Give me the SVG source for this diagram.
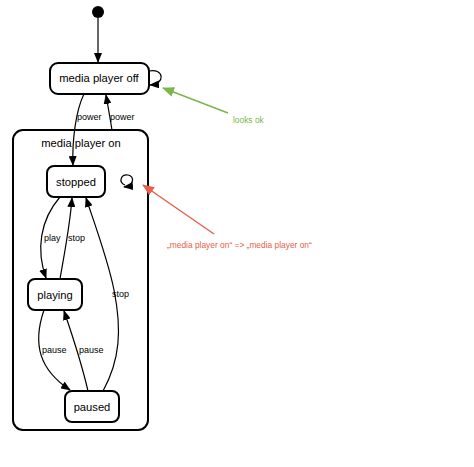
<svg xmlns="http://www.w3.org/2000/svg" width="474" height="467" viewBox="0 0 474 467">
<style>
.node{fill:#fff;stroke:#000;stroke-width:2}
.lbl{font-family:"Liberation Sans",Arial,sans-serif;font-size:11.2px;fill:#000;text-anchor:middle}
.el{font-family:"Liberation Sans",Arial,sans-serif;font-size:9px;fill:#000}
.e{fill:none;stroke:#000;stroke-width:1.2}
.ann{font-family:"Liberation Sans",Arial,sans-serif;font-size:8.4px}
</style>
<defs>
<marker id="ah" markerWidth="10" markerHeight="8" refX="9" refY="4" orient="auto" markerUnits="userSpaceOnUse">
<path d="M0,0 L10,4 L0,8 z" fill="#000"/>
</marker>
<marker id="ag" markerWidth="12" markerHeight="10" refX="11" refY="5" orient="auto" markerUnits="userSpaceOnUse">
<path d="M0,0 L12,5 L0,10 z" fill="#7ab648"/>
</marker>
<marker id="ar" markerWidth="12" markerHeight="10" refX="11" refY="5" orient="auto" markerUnits="userSpaceOnUse">
<path d="M0,0 L12,5 L0,10 z" fill="#e8604c"/>
</marker>
</defs>
<rect width="474" height="467" fill="#fff"/>
<g id="initial"><circle cx="98" cy="12" r="6" fill="#000"/></g>
<g id="media-player-on">
<rect x="13" y="130" width="135" height="300" rx="10" class="node"/>
<text x="81" y="147" class="lbl">media player on</text>
</g>
<g id="media-player-off">
<rect x="50" y="63" width="99" height="31" rx="8" class="node"/>
<text x="99" y="82" class="lbl">media player off</text>
</g>
<g id="stopped">
<rect x="47" y="166" width="58" height="31" rx="7" class="node"/>
<text x="76" y="186" class="lbl">stopped</text>
</g>
<g id="playing">
<rect x="28" y="279" width="54" height="31" rx="7" class="node"/>
<text x="55" y="299" class="lbl">playing</text>
</g>
<g id="paused">
<rect x="65" y="391" width="54" height="31" rx="7" class="node"/>
<text x="92" y="411" class="lbl">paused</text>
</g>
<g id="connectors">
<path class="e" d="M98,18 L98,62" marker-end="url(#ah)"/>
<path class="e" d="M149,71 C164,68 166,84 150,85" marker-end="url(#ah)"/>
<path class="e" d="M84,94 C76,110 72,140 73,165" marker-end="url(#ah)"/>
<path class="e" d="M112,130 C110,118 108,106 106,95" marker-end="url(#ah)"/>
<path class="e" d="M125,185 C118,182 121,174 128,175 C135,176 134,186 124,187" marker-end="url(#ah)"/>
<path class="e" d="M60,197 C40,220 36,250 46,278" marker-end="url(#ah)"/>
<path class="e" d="M60,279 C65,250 70,225 72,198" marker-end="url(#ah)"/>
<path class="e" d="M103,391 C120,360 122,330 114,290 C108,260 95,225 86,198" marker-end="url(#ah)"/>
<path class="e" d="M44,310 C32,345 40,370 70,390" marker-end="url(#ah)"/>
<path class="e" d="M88,391 C82,365 74,340 64,311" marker-end="url(#ah)"/>
<text x="77" y="120" class="el">power</text>
<text x="110" y="120" class="el">power</text>
<text x="44" y="241" class="el">play</text>
<text x="68" y="241" class="el">stop</text>
<text x="112" y="297" class="el">stop</text>
<text x="42" y="353" class="el">pause</text>
<text x="79" y="353" class="el">pause</text>
</g>
<g id="annotations">
<path d="M228,113 L163,88" stroke="#7ab648" stroke-width="1.5" fill="none" marker-end="url(#ag)"/>
<text x="233" y="123" class="ann" fill="#7ab648">looks ok</text>
<path d="M214,234 L143,185" stroke="#e8604c" stroke-width="1.5" fill="none" marker-end="url(#ar)"/>
<text x="167" y="248" class="ann" fill="#e8604c">„media player on“ =&gt; „media player on“</text>
</g>
</svg>
